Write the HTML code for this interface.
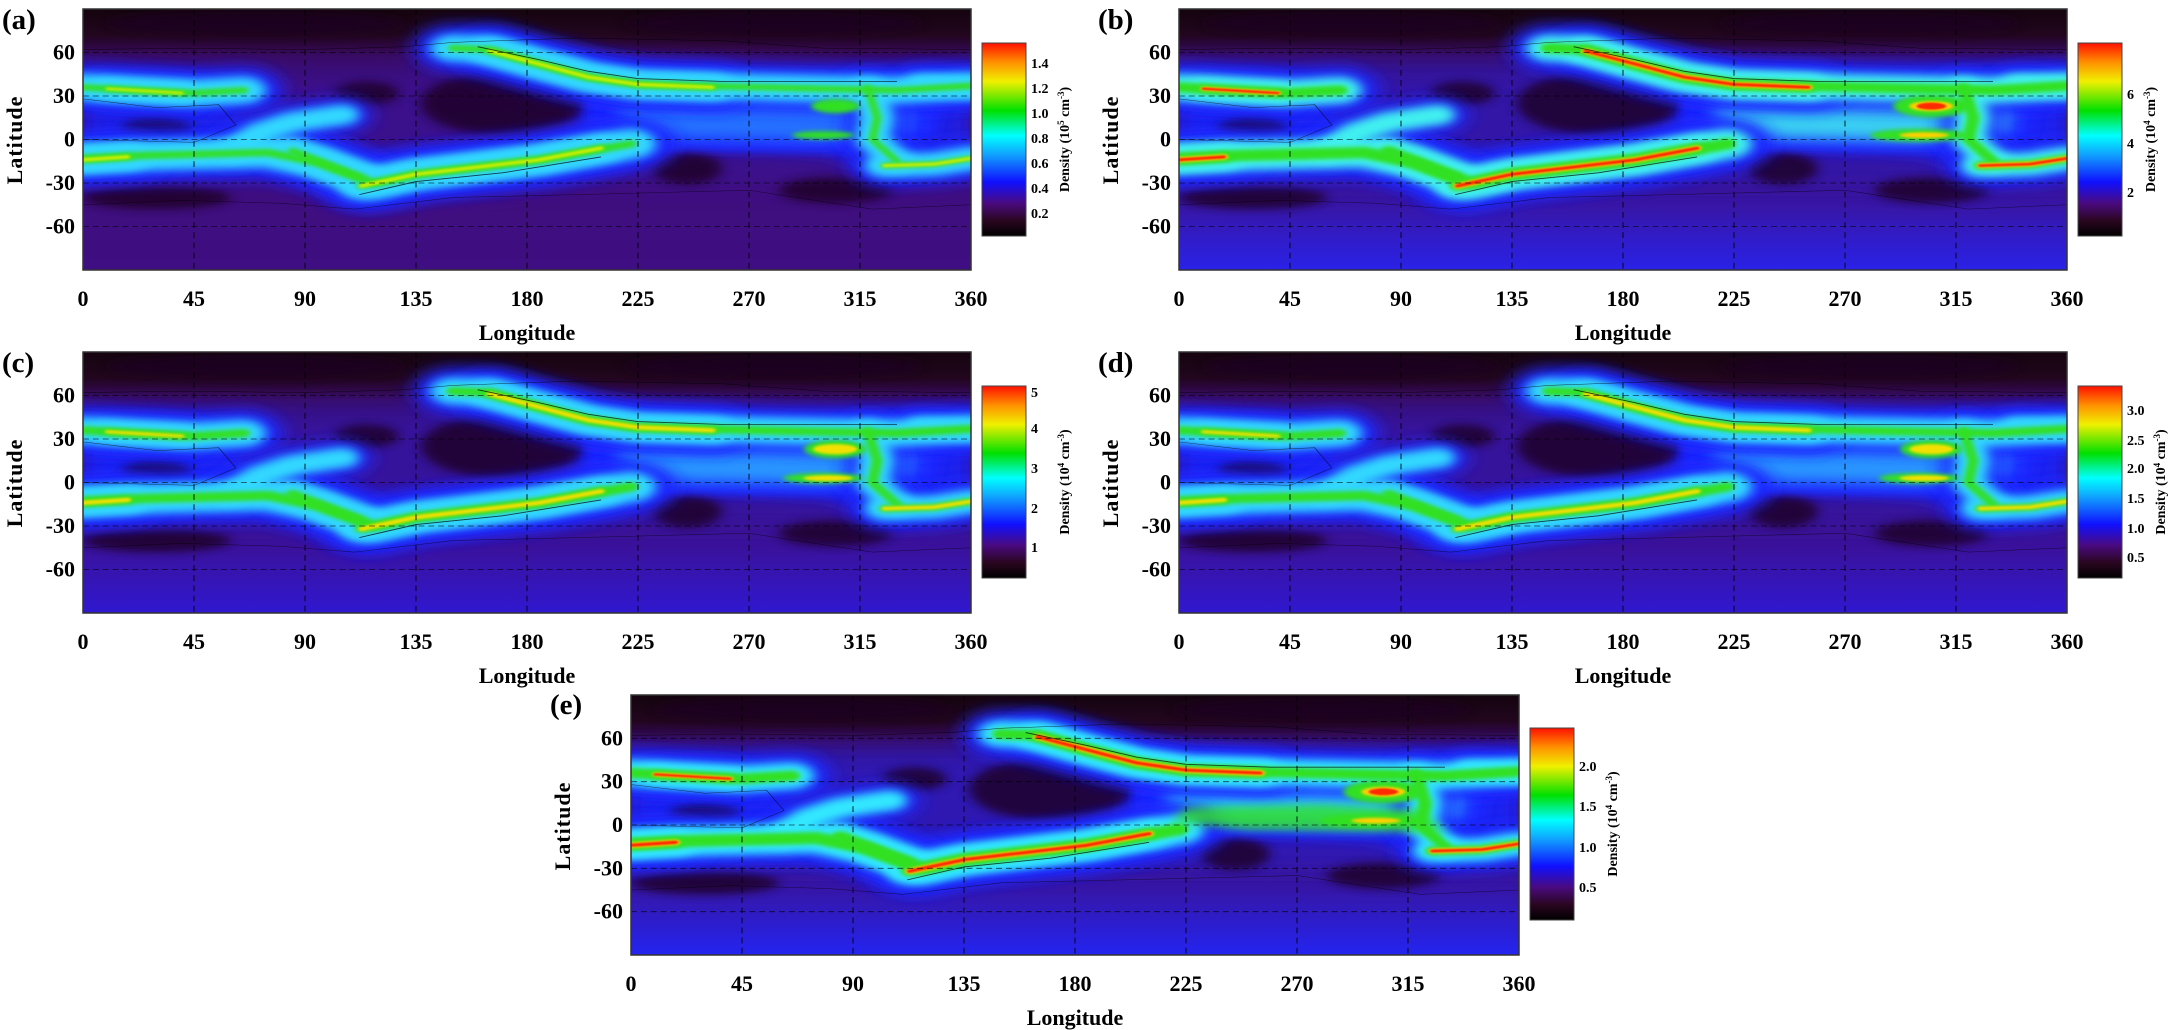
<!DOCTYPE html>
<html><head><meta charset="utf-8">
<style>
html,body{margin:0;padding:0;background:#fff;}
svg{display:block;}
text{font-family:"Liberation Serif",serif;font-weight:bold;fill:#000;}
</style></head>
<body>
<svg id="s" width="2170" height="1030" xmlns="http://www.w3.org/2000/svg"></svg>
<script>
const S=document.getElementById('s');
const panels=[
 {lab:'(a)',x:83,y:9,h:261,lx:2,ly:33,cbx:982,cby:43,cbh:193,ticks:[['1.4',63],['1.2',88],['1.0',113],['0.8',138],['0.6',163],['0.4',188],['0.2',213]],exp:'5',dx:1064,
  col:['#1a28ff','#30d8ff','#30e020','#d8f000',null],bot:'#3e0e82',haze:0.3,hub:0.5,lv:0.7,bl:0.85},
 {lab:'(b)',x:1179,y:9,h:261,lx:1098,ly:33,cbx:2078,cby:43,cbh:193,ticks:[['6',94],['4',143],['2',192]],exp:'4',dx:2150,
  col:['#1a28ff','#40f0f0','#30e020','#ffd000','#ff2a00'],bot:'#2a22e8',haze:0.8,hub:1,lv:1.1,bl:1},
 {lab:'(c)',x:83,y:352,h:261,lx:2,ly:376,cbx:982,cby:386,cbh:192,ticks:[['5',392],['4',428],['3',468],['2',508],['1',547]],exp:'4',dx:1064,
  col:['#1a28ff','#30d8ff','#30e020','#f4e000',null],bot:'#3018d0',haze:0.6,hub:0.75,lv:0.9,bl:1},
 {lab:'(d)',x:1179,y:352,h:261,lx:1098,ly:376,cbx:2078,cby:386,cbh:192,ticks:[['3.0',410],['2.5',440],['2.0',468],['1.5',498],['1.0',528],['0.5',557]],exp:'4',dx:2160,
  col:['#1a28ff','#30d8ff','#30e020','#f4e000',null],bot:'#3018d0',haze:0.6,hub:0.75,lv:0.9,bl:1},
 {lab:'(e)',x:631,y:695,h:260,lx:550,ly:718,cbx:1530,cby:728,cbh:192,ticks:[['2.0',766],['1.5',806],['1.0',847],['0.5',887]],exp:'4',dx:1612,
  col:['#1a28ff','#30e8ff','#30e020','#ffd000','#ff2a00'],bot:'#2424f0',haze:1,hub:1,lv:1.15,bl:1}
];
const W=888;
function P(p){return p.map(([a,b])=>a+','+(90-b)).join(' ');}
const feats=[
 {p:[[150,63],[165,62],[185,52],[205,43],[225,38],[250,37],[275,36],[300,35],[330,34],[360,37]],w:4,l:3},
 {p:[[165,61],[185,52],[205,43],[225,38],[255,36]],w:4,l:5},
 {p:[[0,-13],[25,-11],[50,-10],[75,-9],[95,-16],[108,-24],[118,-30],[135,-24],[160,-19],[185,-14],[205,-8],[222,-3]],w:4.5,l:3},
 {p:[[113,-32],[135,-24],[160,-19],[185,-14],[210,-6]],w:4,l:5},
 {p:[[0,-14],[18,-12]],w:4,l:5},
 {p:[[0,36],[20,34],[45,32],[65,34]],w:4,l:3},
 {p:[[10,35],[40,32]],w:3,l:5},
 {p:[[60,-8],[72,5],[85,12],[105,17]],w:3,l:2},
 {p:[[325,-18],[345,-17],[360,-13]],w:3.5,l:5},
 {p:[[340,38],[360,36]],w:3,l:2},
 {p:[[318,36],[322,15],[320,0],[330,-15]],w:3,l:3},
 {p:[[85,-8],[100,-18],[112,-26]],w:4,l:3}
];
let h='<defs>';
h+='<linearGradient id="cb" x1="0" y1="1" x2="0" y2="0"><stop offset="0" stop-color="#000"/><stop offset="0.08" stop-color="#2a0620"/><stop offset="0.17" stop-color="#4a0a80"/><stop offset="0.28" stop-color="#1010ff"/><stop offset="0.42" stop-color="#10a0ff"/><stop offset="0.52" stop-color="#00ffff"/><stop offset="0.65" stop-color="#00e000"/><stop offset="0.8" stop-color="#f0f000"/><stop offset="0.9" stop-color="#ff9000"/><stop offset="1" stop-color="#ff1000"/></linearGradient>';
[[4,5],[2.5,3],[1.2,1.5],[0.7,0.9],[0.4,0.5],[8,8]].forEach((b,i)=>{h+=`<filter id="b${i}" filterUnits="userSpaceOnUse" x="-60" y="-60" width="480" height="300"><feGaussianBlur stdDeviation="${b[0]} ${b[1]}"/></filter>`;});
panels.forEach((p,i)=>{
 h+=`<clipPath id="c${i}"><rect x="0" y="0" width="360" height="180"/></clipPath>`;
 h+=`<linearGradient id="g${i}" x1="0" y1="0" x2="0" y2="1"><stop offset="0" stop-color="#14040e"/><stop offset="0.1" stop-color="#22061e"/><stop offset="0.18" stop-color="#3a0a5c"/><stop offset="0.3" stop-color="#420c78"/><stop offset="0.6" stop-color="#400e7c"/><stop offset="1" stop-color="${p.bot}"/></linearGradient>`;
});
h+='</defs>';
panels.forEach((p,i)=>{
 const sx=W/360, sy=p.h/180;
 let g=`<g transform="translate(${p.x},${p.y}) scale(${sx},${sy})" clip-path="url(#c${i})">`;
 g+=`<rect x="0" y="0" width="360" height="180" fill="url(#g${i})"/>`;
 g+=`<rect x="-10" y="35" width="380" height="85" fill="#2020e0" opacity="${p.haze*0.55}" filter="url(#b5)"/>`;
 const B1=[[0,44],[30,46],[60,42],[75,30],[60,22],[70,5],[60,-5],[40,-22],[0,-22]];
 const B2=[[200,48],[250,45],[300,46],[340,50],[360,46],[360,-24],[330,-26],[300,-10],[250,-6],[220,-10],[200,0]];
 const B3=[[150,66],[175,66],[200,50],[190,40],[170,52]];
 [B1,B2,B3].forEach(b=>{g+=`<polygon points="${P(b)}" fill="#1a22f0" opacity="${p.bl}" filter="url(#b0)"/>`;});
 [[170,25,33,22],[115,32,13,8],[30,8,14,7],[245,-20,14,11],[305,-35,23,9],[30,-40,30,8],[70,80,60,8],[280,80,60,8]].forEach(b=>{
   g+=`<ellipse cx="${b[0]}" cy="${90-b[1]}" rx="${b[2]}" ry="${b[3]}" fill="#1e0622" opacity="0.8" filter="url(#b1)"/>`;});
 const hub=[[210,38],[260,40],[320,40],[345,30],[342,5],[330,-5],[260,-4],[215,-1],[208,15]];
 g+=`<polygon points="${P(hub)}" fill="${p.col[0]}" stroke="${p.col[0]}" stroke-width="8" filter="url(#b1)"/>`;
 const hub2=[[218,34],[260,36],[315,36],[338,25],[335,4],[300,-1],[240,1],[218,10]];
 g+=`<polygon points="${P(hub2)}" fill="${p.col[1]}" opacity="${p.hub*0.85}" filter="url(#b0)"/>`;
 g+=`<ellipse cx="112" cy="${90+27}" rx="16" ry="9" fill="${p.col[1]}" filter="url(#b1)"/>`;
 g+=`<ellipse cx="115" cy="${90+30}" rx="8" ry="4.5" fill="${p.col[2]}" filter="url(#b2)"/>`;
 const mul=[8,4.6,1.6,0.85,0.5];
 for(let L=0;L<5;L++){
   feats.forEach(f=>{
     if(L>=f.l) return;
     const c=p.col[L]; if(!c) return;
     let w=f.w*mul[L]*(L>=2?p.lv:1);
     g+=`<polyline points="${P(f.p)}" fill="none" stroke="${c}" stroke-width="${w}" stroke-linecap="round" stroke-linejoin="round" filter="url(#b${Math.min(L,4)})"/>`;
   });
   if(L===2){
     g+=`<ellipse cx="305" cy="${90-23}" rx="${14*p.lv}" ry="${7*p.lv}" fill="${p.col[2]}" filter="url(#b2)"/>`;
     g+=`<ellipse cx="300" cy="87" rx="${18*p.lv}" ry="${4*p.lv}" fill="${p.col[2]}" filter="url(#b2)"/>`;
     if(i===4) g+=`<polygon points="${P([[225,12],[280,14],[320,10],[330,-5],[250,-3],[220,2]])}" fill="${p.col[2]}" opacity="0.8" filter="url(#b1)"/>`;
   }
   if(L===3 && i>0){
     g+=`<ellipse cx="305" cy="67" rx="9" ry="3.5" fill="${p.col[3]}" filter="url(#b3)"/>`;
     g+=`<ellipse cx="302" cy="87" rx="10" ry="2" fill="${p.col[3]}" filter="url(#b3)"/>`;
   }
   if(L===4 && p.col[4]){
     g+=`<ellipse cx="305" cy="67" rx="6" ry="2.4" fill="${p.col[4]}" filter="url(#b4)"/>`;
   }
 }
 const cl=(pts,w,o)=>`<polyline points="${P(pts)}" fill="none" stroke="#000" stroke-width="${w}" opacity="${o}"/>`;
 g+=cl([[160,64],[185,55],[205,47],[225,42],[260,40],[330,40]],0.6,0.7);
 g+=cl([[112,-38],[135,-29],[170,-23],[210,-12]],0.6,0.7);
 g+=cl([[0,62],[40,63],[90,62],[130,64],[150,67],[200,70],[260,68],[300,63],[360,62]],0.35,0.7);
 g+=cl([[0,-45],[40,-42],[80,-44],[110,-48],[150,-40],[200,-38],[270,-35],[320,-48],[360,-45]],0.35,0.6);
 g+=cl([[0,28],[30,22],[55,24],[62,10],[45,-2],[0,0]],0.35,0.6);
 for(let k=1;k<8;k++) g+=`<line x1="${k*45}" y1="0" x2="${k*45}" y2="180" stroke="#000" stroke-width="${1/sx}" stroke-dasharray="4 3" opacity="0.85"/>`;
 [60,30,0,-30,-60].forEach(la=>{g+=`<line x1="0" y1="${90-la}" x2="360" y2="${90-la}" stroke="#000" stroke-width="${0.8/sy}" stroke-dasharray="2.4 1.6" opacity="0.7"/>`;});
 g+='</g>';
 g+=`<rect x="${p.x}" y="${p.y}" width="${W}" height="${p.h}" fill="none" stroke="#333" stroke-width="1.5"/>`;
 [60,30,0,-30,-60].forEach(la=>{const yy=p.y+(90-la)*sy; g+=`<text x="${p.x-8}" y="${yy+7}" font-size="22" text-anchor="end">${la}</text>`;});
 for(let k=0;k<=8;k++){g+=`<text x="${p.x+k*111}" y="${p.y+p.h+36}" font-size="22" text-anchor="middle">${k*45}</text>`;}
 g+=`<text x="${p.x+444}" y="${p.y+p.h+70}" font-size="22" text-anchor="middle">Longitude</text>`;
 g+=`<text transform="translate(${p.x-61},${p.y+131}) rotate(-90)" font-size="22" letter-spacing="1" text-anchor="middle">Latitude</text>`;
 g+=`<text x="${p.lx}" y="${p.ly-4}" font-size="29">${p.lab}</text>`;
 g+=`<rect x="${p.cbx}" y="${p.cby}" width="44" height="${p.cbh}" fill="url(#cb)" stroke="#444" stroke-width="1"/>`;
 p.ticks.forEach(t=>{g+=`<text x="${p.cbx+49}" y="${t[1]+5}" font-size="14">${t[0]}</text>`;});
 g+=`<text transform="translate(${p.dx+5},${p.cby+p.cbh/2}) rotate(-90)" font-size="14" text-anchor="middle">Density (10<tspan dy="-5" font-size="9">${p.exp}</tspan><tspan dy="5"> cm</tspan><tspan dy="-5" font-size="9">-3</tspan><tspan dy="5">)</tspan></text>`;
 h+=g;
});
S.innerHTML=h;
</script>
</body></html>
